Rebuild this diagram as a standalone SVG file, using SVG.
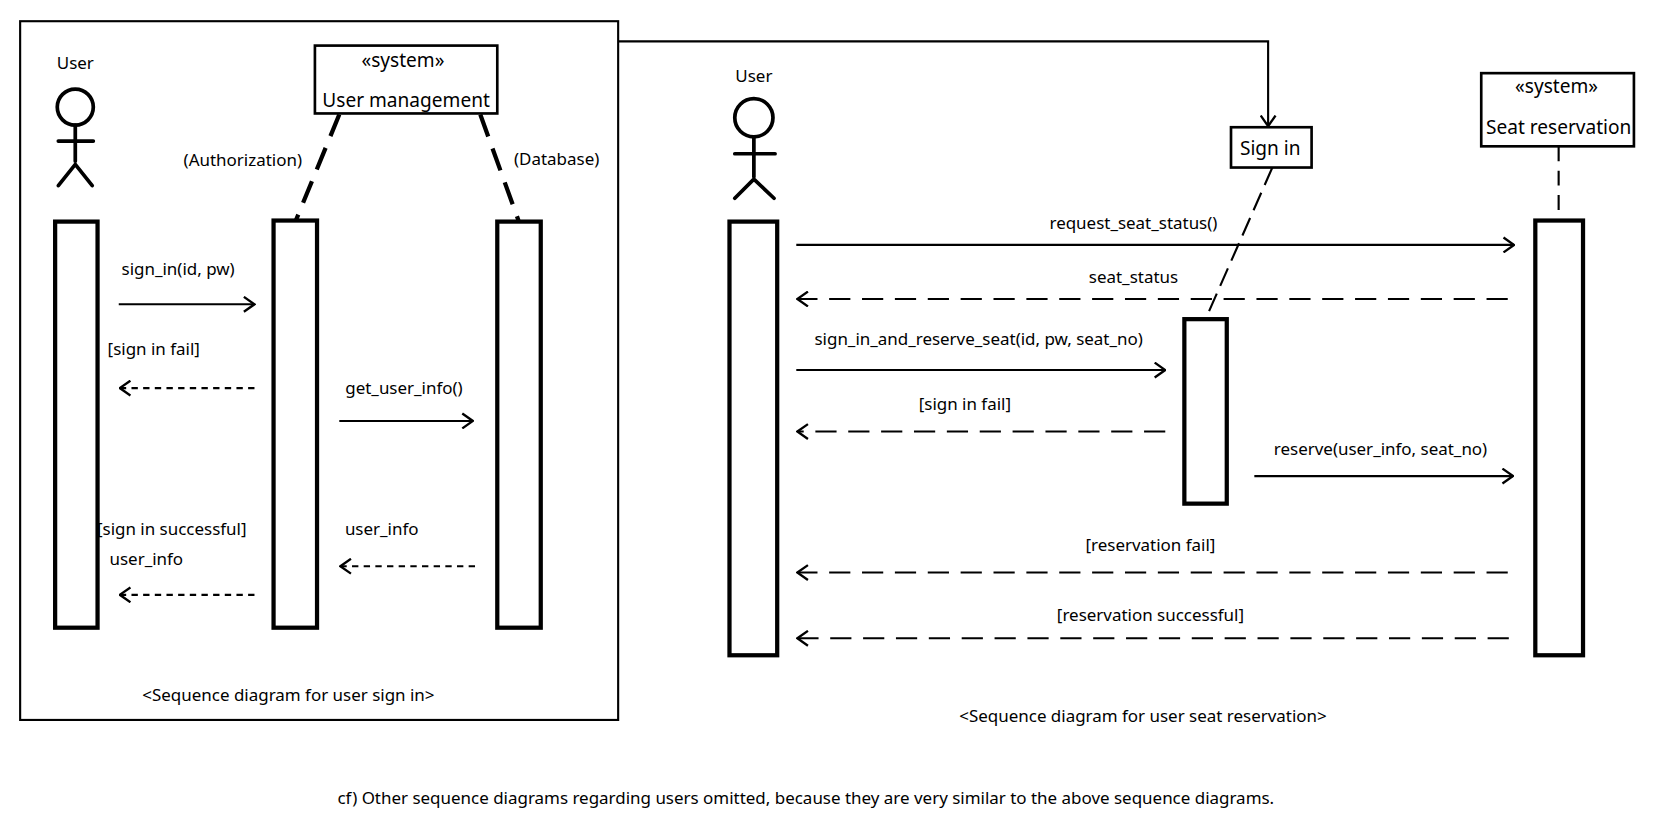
<svg xmlns="http://www.w3.org/2000/svg" width="1654" height="820" viewBox="0 0 1654 820">
<style>
text{font-family:"Noto Sans","Open Sans",sans-serif;font-size:16px;fill:#000;text-anchor:middle}
.big{font-size:18px}
.box{fill:#fff;stroke:#000;stroke-width:2.5}
.act{fill:#fff;stroke:#000;stroke-width:4}
.ln{fill:none;stroke:#000;stroke-width:2}
.sd{stroke-dasharray:6 5}
.ld{stroke-dasharray:20 11}
.lf{fill:none;stroke:#000;stroke-width:4;stroke-dasharray:22 12}
.actor{fill:none;stroke:#000;stroke-width:3.5;stroke-linecap:round}
</style>
<defs>
<marker id="a" viewBox="0 0 12 16" refX="11" refY="8" markerWidth="12" markerHeight="16" markerUnits="userSpaceOnUse" orient="auto">
<path d="M1 1 L11 8 L1 15" fill="none" stroke="#000" stroke-width="2.2"/>
</marker>
</defs>
<rect width="1654" height="820" fill="#fff"/>
<g transform="scale(1.0603)">
<rect id="frame" x="19" y="20" width="564" height="659" fill="none" stroke="#000" stroke-width="2"/>
<g id="user1">
<text x="71" y="65">User</text>
<circle cx="71" cy="101" r="17" class="actor"/>
<path class="actor" d="M71 118V152M55 133H88M55 175L71 155L87 175"/>
<rect class="act" x="52" y="209" width="40" height="383"/>
</g>
<g id="usermgmt">
<rect class="box" x="297" y="43" width="172" height="64"/>
<text x="380" y="63" class="big">«system»</text>
<text x="383" y="101" class="big">User management</text>
</g>
<g id="auth">
<rect class="act" x="258" y="208" width="41" height="384"/>
<text x="229" y="157">(Authorization)</text>
</g>
<g id="db">
<rect class="act" x="469" y="209" width="41" height="383"/>
<text x="525" y="156">(Database)</text>
</g>
<g id="user2">
<text x="711" y="77">User</text>
<circle cx="711" cy="111" r="18" class="actor"/>
<path class="actor" d="M711 129V167M693 145H731M693 187L711 169L730 187"/>
<rect class="act" x="688" y="209" width="45" height="409"/>
</g>
<g id="signin">
<rect class="box" x="1161" y="120" width="76" height="38"/>
<text x="1198" y="146" class="big">Sign in</text>
<rect class="act" x="1117" y="301" width="40" height="174"/>
</g>
<g id="seatres">
<rect class="box" x="1397" y="69" width="144" height="69"/>
<text x="1468" y="88" class="big">«system»</text>
<text x="1470" y="126" class="big">Seat reservation</text>
<rect class="act" x="1448" y="208" width="45" height="410"/>
</g>
<g id="connectors">
<path class="lf" d="M320 108L279 208M453 108L489 208"/>
<path class="ln" d="M583 39H1196V119" marker-end="url(#a)"/>
<path class="ln" d="M1470 138V208" stroke-dasharray="14 9"/>
<path class="ln" d="M1200 158L1137 301" stroke-dasharray="18 8"/>
<path class="ln" d="M112 287H240" marker-end="url(#a)"/>
<path class="ln sd" d="M240 366H113" marker-end="url(#a)"/>
<path class="ln" d="M320 397H446" marker-end="url(#a)"/>
<path class="ln sd" d="M448 534H321" marker-end="url(#a)"/>
<path class="ln sd" d="M240 561H113" marker-end="url(#a)"/>
<path class="ln" d="M751 231H1428" marker-end="url(#a)"/>
<path class="ln ld" d="M1422 282H752" marker-end="url(#a)"/>
<path class="ln" d="M751 349H1099" marker-end="url(#a)"/>
<path class="ln ld" d="M1099 407H752" marker-end="url(#a)"/>
<path class="ln" d="M1183 449H1427" marker-end="url(#a)"/>
<path class="ln ld" d="M1422 540H752" marker-end="url(#a)"/>
<path class="ln ld" d="M1423 602H752" marker-end="url(#a)"/>
</g>
<g id="labels">
<text x="168" y="259">sign_in(id, pw)</text>
<text x="145" y="335">[sign in fail]</text>
<text x="381" y="372">get_user_info()</text>
<text x="162" y="505">[sign in successful]</text>
<text x="138" y="533">user_info</text>
<text x="360" y="505">user_info</text>
<text x="272" y="661">&lt;Sequence diagram for user sign in&gt;</text>
<text x="1069" y="216">request_seat_status()</text>
<text x="1069" y="267">seat_status</text>
<text x="923" y="325">sign_in_and_reserve_seat(id, pw, seat_no)</text>
<text x="910" y="387">[sign in fail]</text>
<text x="1302" y="429">reserve(user_info, seat_no)</text>
<text x="1085" y="520">[reservation fail]</text>
<text x="1085" y="586">[reservation successful]</text>
<text x="1078" y="681">&lt;Sequence diagram for user seat reservation&gt;</text>
<text x="760" y="758">cf) Other sequence diagrams regarding users omitted, because they are very similar to the above sequence diagrams.</text>
</g>
</g>
</svg>
